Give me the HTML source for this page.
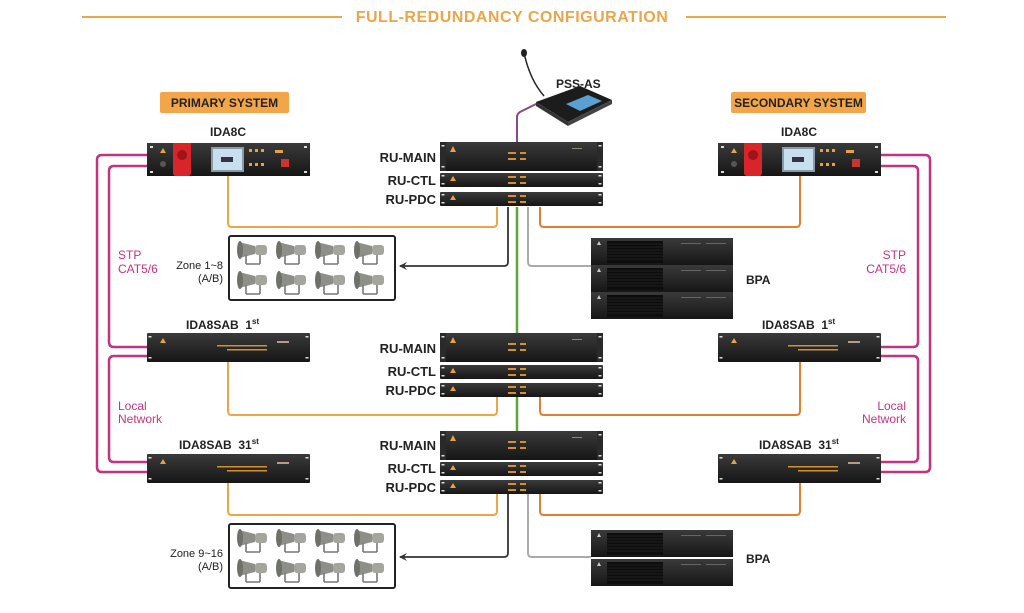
<!DOCTYPE html>
<html><head><meta charset="utf-8"><style>
html,body{margin:0;padding:0;background:#fff;}
svg{display:block}
text{font-family:"Liberation Sans",sans-serif;}
</style></head><body>
<svg width="1024" height="613" viewBox="0 0 1024 613" xmlns="http://www.w3.org/2000/svg">
<defs>
<linearGradient id="rk" x1="0" y1="0" x2="0" y2="1"><stop offset="0" stop-color="#3a3a3a"/><stop offset="1" stop-color="#161616"/></linearGradient>
<symbol id="ru2" viewBox="0 0 163 29" width="163" height="29">
<rect x="0" y="0" width="163" height="29" rx="1" fill="url(#rk)"/><rect x="0" y="0" width="6" height="29" fill="#2a2a2a"/><rect x="157" y="0" width="6" height="29" fill="#2a2a2a"/>
<rect x="1.5" y="3" width="3" height="1.5" fill="#ddd"/><rect x="1.5" y="24" width="3" height="1.5" fill="#ddd"/><rect x="158.5" y="3" width="3" height="1.5" fill="#ddd"/><rect x="158.5" y="24" width="3" height="1.5" fill="#ddd"/>
<path d="M13 4l3 6h-6z" fill="#e8a23a"/><rect x="68" y="10" width="8" height="2" fill="#d4902f"/><rect x="80" y="10" width="6" height="2" fill="#d4902f"/><rect x="68" y="16" width="8" height="2" fill="#d4902f"/><rect x="80" y="16" width="6" height="2" fill="#d4902f"/><rect x="132" y="6" width="10" height="1" fill="#887"/>
</symbol>
<symbol id="ru1" viewBox="0 0 163 14" width="163" height="14">
<rect x="0" y="0" width="163" height="14" rx="1" fill="url(#rk)"/><rect x="1.5" y="2" width="3" height="1.5" fill="#ddd"/><rect x="1.5" y="10" width="3" height="1.5" fill="#ddd"/><rect x="158.5" y="2" width="3" height="1.5" fill="#ddd"/><rect x="158.5" y="10" width="3" height="1.5" fill="#ddd"/>
<path d="M13 3l3 5h-6z" fill="#e8a23a"/><rect x="68" y="3" width="8" height="2" fill="#d4902f"/><rect x="80" y="3" width="6" height="2" fill="#d4902f"/><rect x="68" y="9" width="8" height="2" fill="#d4902f"/><rect x="80" y="9" width="6" height="2" fill="#d4902f"/>
</symbol>
<symbol id="sab" viewBox="0 0 163 29" width="163" height="29">
<rect x="0" y="0" width="163" height="29" rx="1" fill="url(#rk)"/><rect x="1.5" y="3" width="3" height="1.5" fill="#ddd"/><rect x="1.5" y="24" width="3" height="1.5" fill="#ddd"/><rect x="158.5" y="3" width="3" height="1.5" fill="#ddd"/><rect x="158.5" y="24" width="3" height="1.5" fill="#ddd"/>
<path d="M16 5l3 5h-6z" fill="#e8a23a"/><rect x="70" y="12" width="50" height="1.5" fill="#d4902f"/><rect x="80" y="16" width="40" height="1.5" fill="#d4902f"/><rect x="130" y="8" width="12" height="2" fill="#b98"/>
</symbol>
<symbol id="ida" viewBox="0 0 163 33" width="163" height="33">
<rect x="0" y="0" width="163" height="33" fill="url(#rk)"/><rect x="3" y="3" width="3" height="2" fill="#ddd"/><rect x="3" y="28" width="3" height="2" fill="#ddd"/><rect x="157" y="3" width="3" height="2" fill="#ddd"/><rect x="157" y="28" width="3" height="2" fill="#ddd"/>
<path d="M16 5l3 5h-6z" fill="#e8a23a"/><circle cx="16" cy="21" r="3" fill="#555"/>
<rect x="26" y="-4" width="18" height="37" rx="3" fill="#d9242a"/><circle cx="35" cy="12" r="5" fill="#9b151a"/>
<rect x="64" y="4" width="33" height="25" fill="#8a9aa6"/><rect x="66" y="6" width="29" height="21" fill="#c8dff0"/><rect x="74" y="14" width="12" height="5" fill="#334"/>
<rect x="102" y="6" width="3" height="3" fill="#e8a23a"/><rect x="108" y="6" width="3" height="3" fill="#e8a23a"/><rect x="114" y="6" width="3" height="3" fill="#e8a23a"/><rect x="102" y="20" width="3" height="3" fill="#e8a23a"/><rect x="108" y="20" width="3" height="3" fill="#e8a23a"/><rect x="114" y="20" width="3" height="3" fill="#e8a23a"/><rect x="128" y="7" width="8" height="3" fill="#e8a23a"/><rect x="134" y="16" width="8" height="8" fill="#c33"/>
</symbol>
<symbol id="bpa" viewBox="0 0 142 27" width="142" height="27">
<rect x="0" y="0" width="142" height="27" fill="url(#rk)"/><rect x="16" y="3" width="56" height="22" fill="#0d0d0d"/>
<g stroke="#333" stroke-width="0.6"><path d="M16 6h56M16 9h56M16 12h56M16 15h56M16 18h56M16 21h56"/></g>
<path d="M8 3l2 4h-4z" fill="#ccc"/><rect x="90" y="5" width="20" height="1" fill="#666"/><rect x="115" y="5" width="20" height="1" fill="#666"/>
</symbol>
<symbol id="spk" viewBox="0 0 34 28" width="34" height="28">
<path d="M2 4 L18 8 L18 16 L2 20 Z" fill="#8d8f88"/><ellipse cx="3" cy="12" rx="3" ry="9" fill="#6e706a"/><rect x="18" y="7" width="12" height="10" rx="3" fill="#a4a69e"/><path d="M9 17 v9 M23 17 v9 M9 26 h14" stroke="#777" stroke-width="1.6" fill="none"/>
</symbol>
<marker id="ar" markerWidth="10" markerHeight="10" refX="8" refY="5" orient="auto" markerUnits="userSpaceOnUse"><path d="M1 1 L9 5 L1 9 L4 5 Z" fill="#333"/></marker>
</defs>

<line x1="82" y1="17" x2="342" y2="17" stroke="#eba54a" stroke-width="2"/>
<line x1="686" y1="17" x2="946" y2="17" stroke="#eba54a" stroke-width="2"/>
<text x="512" y="22" text-anchor="middle" font-size="16" font-weight="bold" fill="#eba54a" letter-spacing="0.5">FULL-REDUNDANCY CONFIGURATION</text>

<rect x="160" y="92" width="129" height="21" rx="2" fill="#f3a649"/>
<text x="224.5" y="107" text-anchor="middle" font-size="12" font-weight="bold" fill="#222">PRIMARY SYSTEM</text>
<rect x="731" y="92" width="135" height="21" rx="2" fill="#f3a649"/>
<text x="798.5" y="107" text-anchor="middle" font-size="12" font-weight="bold" fill="#222">SECONDARY SYSTEM</text>

<g stroke="#c2357c" stroke-width="2.5" fill="none" stroke-linejoin="round">
<path d="M147 155 H102 Q97 155 97 160 V467 Q97 472 102 472 H147"/>
<path d="M147 166 H114 Q109 166 109 171 V342 Q109 347 114 347 H147"/>
<path d="M147 356 H114 Q109 356 109 361 V457 Q109 462 114 462 H147"/>
<path d="M880 155 H925 Q930 155 930 160 V467 Q930 472 925 472 H880"/>
<path d="M880 166 H913 Q918 166 918 171 V342 Q918 347 913 347 H880"/>
<path d="M880 356 H913 Q918 356 918 361 V457 Q918 462 913 462 H880"/>
</g>
<path d="M540 102 L520 112 Q517 114 517 117 V142" stroke="#8a4a8a" stroke-width="2" fill="none"/>

<g stroke="#eba54a" stroke-width="2" fill="none">
<path d="M228 176 V223 Q228 227 232 227 H493 Q497 227 497 223 V207"/>
<path d="M228 362 V411 Q228 415 232 415 H493 Q497 415 497 411 V397"/>
<path d="M228 482 V511 Q228 515 232 515 H493 Q497 515 497 511 V494"/>
</g>
<g stroke="#e07f30" stroke-width="2" fill="none">
<path d="M800 176 V223 Q800 227 796 227 H544 Q540 227 540 223 V207"/>
<path d="M800 362 V411 Q800 415 796 415 H544 Q540 415 540 411 V397"/>
<path d="M800 482 V511 Q800 515 796 515 H544 Q540 515 540 511 V494"/>
</g>
<path d="M517 207 V333 M517 397 V431" stroke="#5aa83a" stroke-width="2.5"/>
<path d="M508 207 V262 Q508 266 504 266 H400" stroke="#333" stroke-width="1.8" fill="none" marker-end="url(#ar)"/>
<path d="M508 494 V553 Q508 557 504 557 H400" stroke="#333" stroke-width="1.8" fill="none" marker-end="url(#ar)"/>
<path d="M528 207 V262 Q528 266 532 266 H591" stroke="#aaa" stroke-width="2" fill="none"/>
<path d="M528 494 V553 Q528 557 532 557 H591" stroke="#aaa" stroke-width="2" fill="none"/>

<path d="M524 53 Q530 80 544 96" stroke="#222" stroke-width="1.5" fill="none"/><ellipse cx="524" cy="53" rx="3" ry="4" fill="#222"/>
<path d="M536 102 L580 86 L612 100 L568 122 Z" fill="#1c1c1c"/><path d="M536 102 L568 122 L568 126 L536 106 Z" fill="#333"/><path d="M568 122 L612 100 L612 104 L568 126 Z" fill="#444"/>
<path d="M566 104 L588 95 L602 101 L580 111 Z" fill="#5aa0d0"/>
<text x="556" y="88" font-size="12" font-weight="bold" fill="#222">PSS-AS</text>

<text x="228" y="136" text-anchor="middle" font-size="12" font-weight="bold" fill="#222">IDA8C</text>
<use href="#ida" x="147" y="143"/>
<text x="799" y="136" text-anchor="middle" font-size="12" font-weight="bold" fill="#222">IDA8C</text>
<use href="#ida" x="718" y="143"/>

<g font-size="13" font-weight="bold" fill="#222" text-anchor="end">
<text x="436" y="162">RU-MAIN</text><text x="436" y="185">RU-CTL</text><text x="436" y="204">RU-PDC</text>
<text x="436" y="353">RU-MAIN</text><text x="436" y="376">RU-CTL</text><text x="436" y="395">RU-PDC</text>
<text x="436" y="450">RU-MAIN</text><text x="436" y="473">RU-CTL</text><text x="436" y="492">RU-PDC</text>
</g>
<use href="#ru2" x="440" y="142"/><use href="#ru1" x="440" y="173"/><use href="#ru1" x="440" y="192"/>
<use href="#ru2" x="440" y="333"/><use href="#ru1" x="440" y="365"/><use href="#ru1" x="440" y="383"/>
<use href="#ru2" x="440" y="431"/><use href="#ru1" x="440" y="462"/><use href="#ru1" x="440" y="480"/>

<g font-size="12" font-weight="bold" fill="#222">
<text x="186" y="329">IDA8SAB&#160;&#160;1<tspan font-size="8" dy="-5">st</tspan></text>
<text x="762" y="329">IDA8SAB&#160;&#160;1<tspan font-size="8" dy="-5">st</tspan></text>
<text x="179" y="449">IDA8SAB&#160;&#160;31<tspan font-size="8" dy="-5">st</tspan></text>
<text x="759" y="449">IDA8SAB&#160;&#160;31<tspan font-size="8" dy="-5">st</tspan></text>
</g>
<use href="#sab" x="147" y="333"/><use href="#sab" x="718" y="333"/>
<use href="#sab" x="147" y="454"/><use href="#sab" x="718" y="454"/>

<use href="#bpa" x="591" y="238"/><use href="#bpa" x="591" y="265"/><use href="#bpa" x="591" y="292"/>
<use href="#bpa" x="591" y="530"/><use href="#bpa" x="591" y="559"/>
<text x="746" y="284" font-size="12" font-weight="bold" fill="#222">BPA</text>
<text x="746" y="563" font-size="12" font-weight="bold" fill="#222">BPA</text>

<rect x="229" y="236" width="166" height="64" rx="2" fill="#fff" stroke="#222" stroke-width="2"/>
<rect x="229" y="524" width="166" height="64" rx="2" fill="#fff" stroke="#222" stroke-width="2"/>
<g>
<use href="#spk" x="237" y="238"/><use href="#spk" x="276" y="238"/><use href="#spk" x="315" y="238"/><use href="#spk" x="354" y="238"/>
<use href="#spk" x="237" y="268"/><use href="#spk" x="276" y="268"/><use href="#spk" x="315" y="268"/><use href="#spk" x="354" y="268"/>
<use href="#spk" x="237" y="526"/><use href="#spk" x="276" y="526"/><use href="#spk" x="315" y="526"/><use href="#spk" x="354" y="526"/>
<use href="#spk" x="237" y="556"/><use href="#spk" x="276" y="556"/><use href="#spk" x="315" y="556"/><use href="#spk" x="354" y="556"/>
</g>
<g font-size="11" fill="#222" text-anchor="end">
<text x="223" y="269">Zone 1~8</text><text x="223" y="282">(A/B)</text>
<text x="223" y="557">Zone 9~16</text><text x="223" y="570">(A/B)</text>
</g>

<g font-size="12" fill="#c2357c">
<text x="118" y="259">STP</text><text x="118" y="273">CAT5/6</text>
<text x="118" y="410">Local</text><text x="118" y="423">Network</text>
</g>
<g font-size="12" fill="#c2357c" text-anchor="end">
<text x="906" y="259">STP</text><text x="906" y="273">CAT5/6</text>
<text x="906" y="410">Local</text><text x="906" y="423">Network</text>
</g>
</svg>
</body></html>
